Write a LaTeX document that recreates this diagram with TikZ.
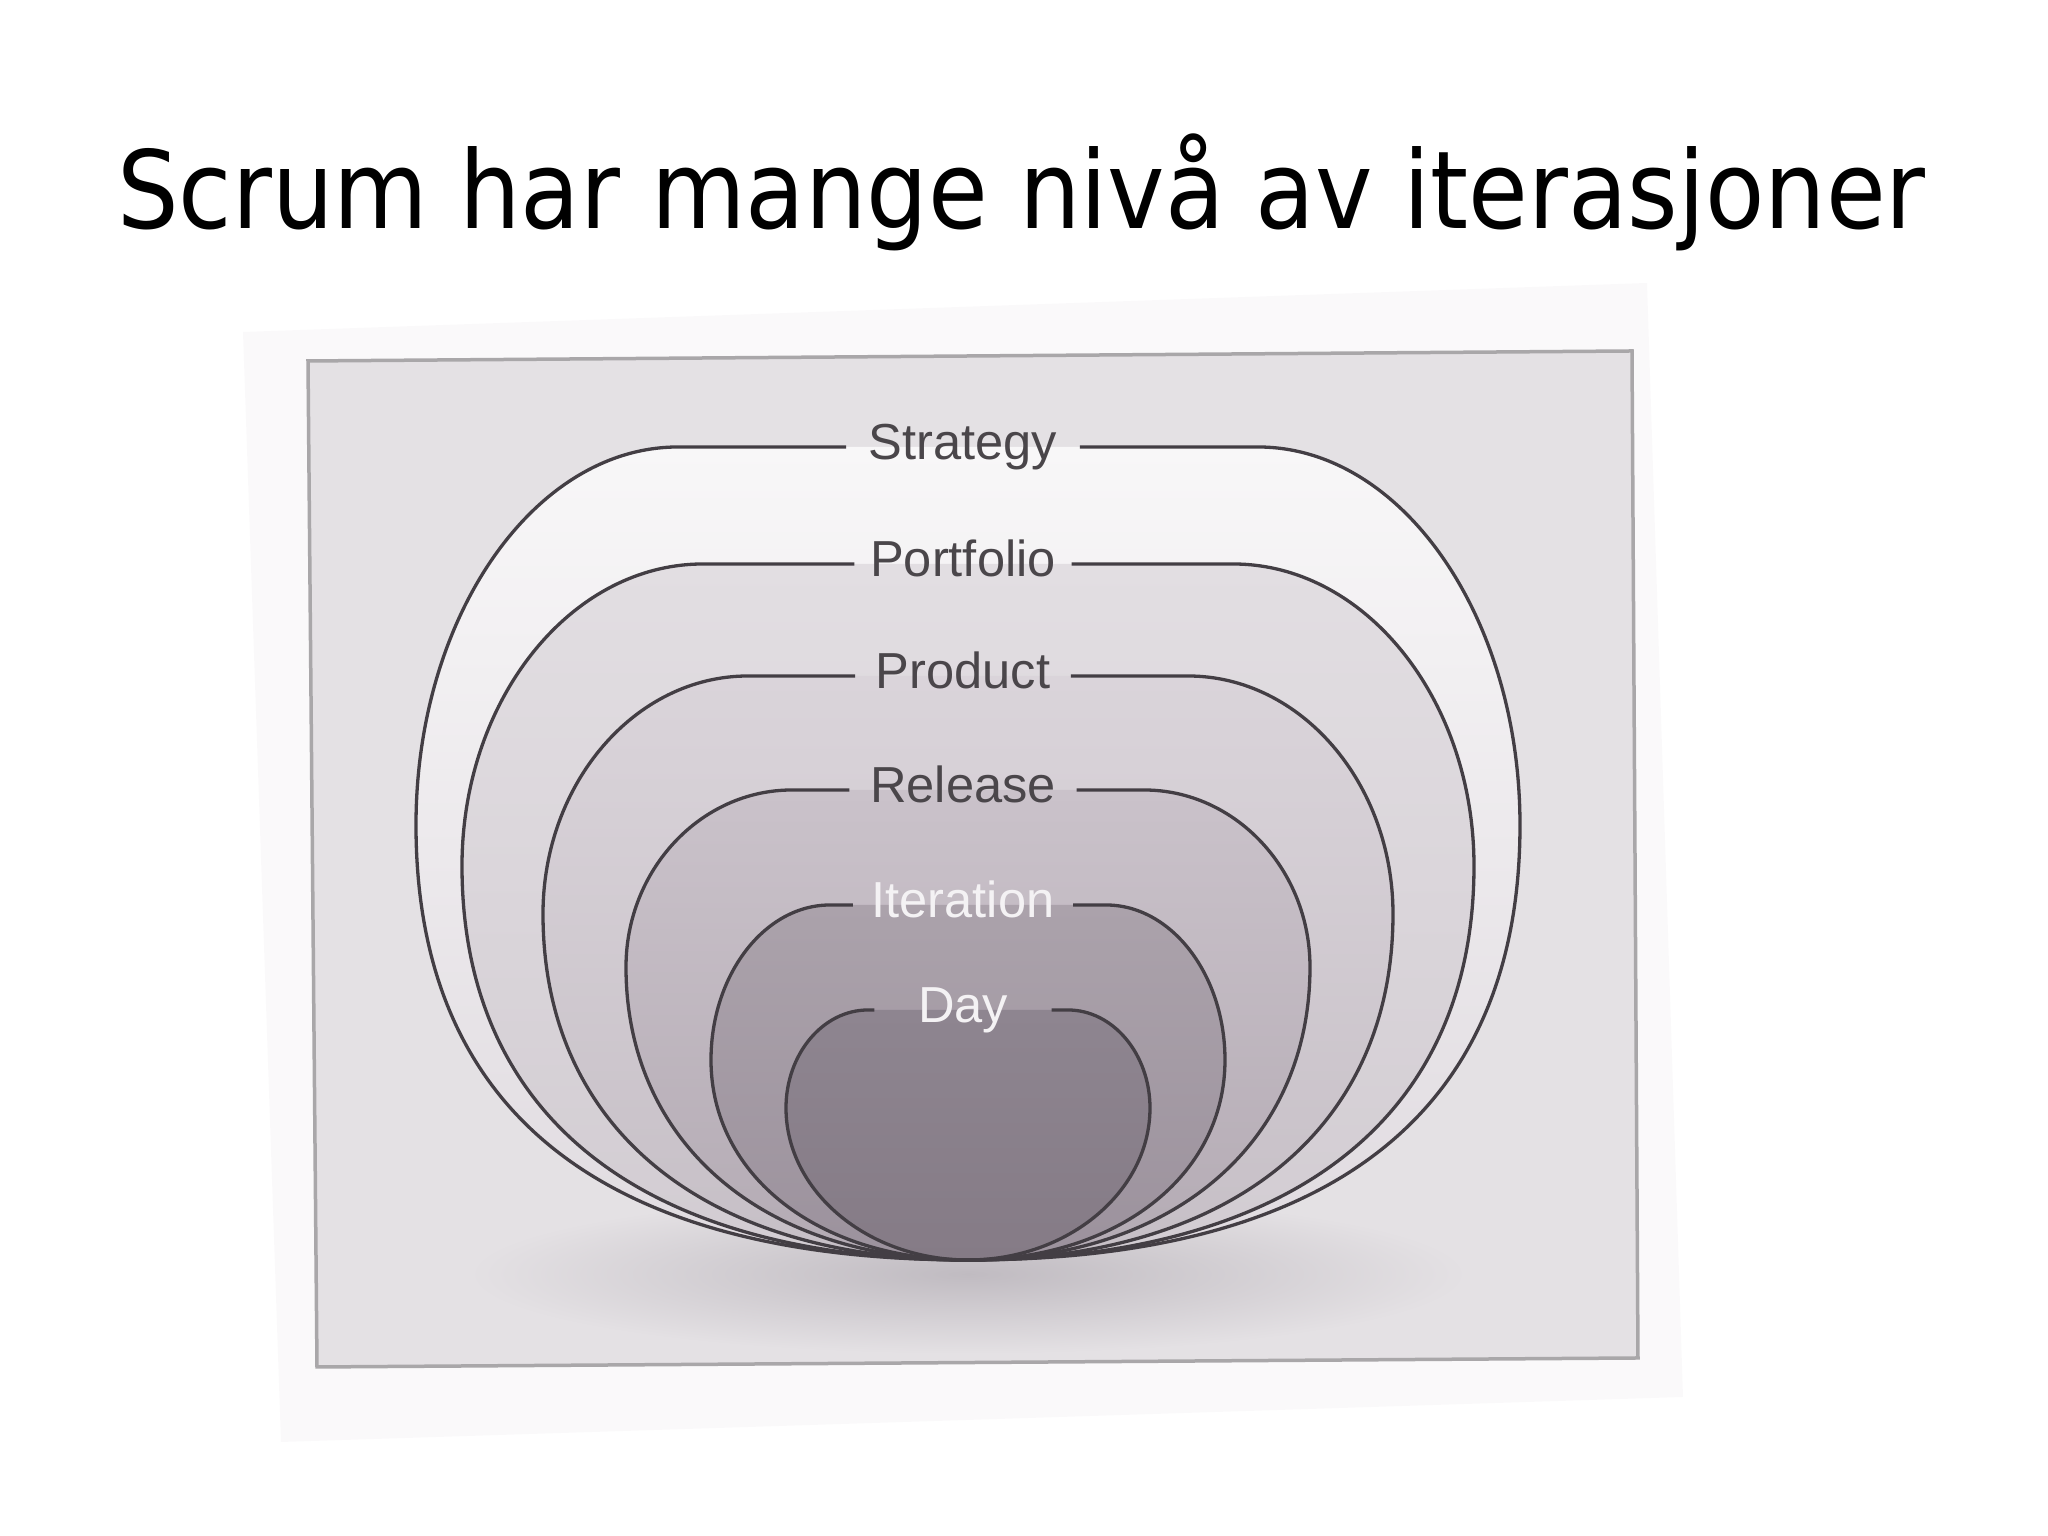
\documentclass[tikz,border=0pt]{standalone}
\usepackage{fontspec}
\setmainfont{Liberation Sans}
\newfontfamily\titlefont[FakeStretch=0.9]{DejaVu Sans}

\definecolor{paper}{HTML}{FAF9FA}
\definecolor{framegray}{HTML}{E4E1E4}
\definecolor{frameline}{HTML}{A9A7A9}
\definecolor{shadow}{HTML}{C0BBC1}
\definecolor{curveline}{HTML}{433E44}
\definecolor{labeldark}{HTML}{4A464A}
\definecolor{labellight}{HTML}{F4F2F4}
\definecolor{strategytop}{HTML}{F8F7F8}
\definecolor{strategybot}{HTML}{E0DBE0}
\definecolor{portfoliotop}{HTML}{E2DEE2}
\definecolor{portfoliobot}{HTML}{D2CCD2}
\definecolor{producttop}{HTML}{DAD4DA}
\definecolor{productbot}{HTML}{C6BFC6}
\definecolor{releasetop}{HTML}{CAC2CA}
\definecolor{releasebot}{HTML}{B4ABB4}
\definecolor{iterationtop}{HTML}{ABA2AB}
\definecolor{iterationbot}{HTML}{9C929D}
\definecolor{daytop}{HTML}{8E8590}
\definecolor{daybot}{HTML}{857B86}

\def\cx{9.68}
\def\yb{2.76}

% one bowl: #1 options, #2 start, #3 end, #4 top y, #5 straight half, #6 half width, #7 y at widest, #8 roundness below
\newcommand{\bowl}[8]{
	\path[#1] #2 -- ({\cx-#5},#4)
		.. controls ({\cx-#5-0.55*(#6-#5)},#4) and ({\cx-#6},{#7+0.55*(#4-#7)}) .. ({\cx-#6},#7)
		.. controls ({\cx-#6},{#7-#8*(#7-\yb)}) and ({\cx-#8*#6},\yb) .. (\cx,\yb)
		.. controls ({\cx+#8*#6},\yb) and ({\cx+#6},{#7-#8*(#7-\yb)}) .. ({\cx+#6},#7)
		.. controls ({\cx+#6},{#7+0.55*(#4-#7)}) and ({\cx+#5+0.55*(#6-#5)},#4) .. ({\cx+#5},#4)
		-- #3;
}

\begin{document}
\begin{tikzpicture}[
	curve/.style={draw=curveline, line width=0.033cm},
	lvl/.style={font=\fontsize{14.4}{17}\selectfont, text height=0.72em, text depth=0pt, inner ysep=0pt}
	]

	\useasboundingbox (0,0) rectangle (20.48,15.36);

	\node[anchor=base, font=\titlefont\fontsize{30.7}{36}\selectfont] (title) at (10.215,13.07) {Scrum har mange nivå av iterasjoner};

	% scanned page and its frame
	\fill[paper] (2.43,12.04) -- (16.47,12.53) -- (16.83,1.39) -- (2.81,0.94) -- cycle;
	\filldraw[fill=framegray, draw=frameline, line width=0.035cm] (3.08,11.75) -- (16.32,11.85) -- (16.38,1.78) -- (3.17,1.69) -- cycle;
	\shade[inner color=shadow, outer color=framegray] (\cx,2.62) ellipse (5.0 and 0.8);

	\foreach \name/\yt/\sx/\hw/\ym/\rd in {
		strategy/10.89/2.90/5.52/7.11/0.66,
		portfolio/9.72/2.65/5.06/6.70/0.64,
		product/8.60/2.20/4.25/6.22/0.62,
		release/7.46/1.76/3.42/5.69/0.60,
		iteration/6.31/1.38/2.57/4.76/0.58,
		day/5.26/1.00/1.82/4.28/0.55}
		\bowl{top color=\name top, bottom color=\name bot}{(\cx,\yt)}{cycle}{\yt}{\sx}{\hw}{\ym}{\rd}
		; %end for fills

	\foreach \name/\txt/\yt/\sx/\hw/\ym/\rd/\tc/\gap in {
		strategy/Strategy/10.89/2.90/5.52/7.11/0.66/labeldark/0.22,
		portfolio/Portfolio/9.72/2.65/5.06/6.70/0.64/labeldark/0.15,
		product/Product/8.60/2.20/4.25/6.22/0.62/labeldark/0.20,
		release/Release/7.46/1.76/3.42/5.69/0.60/labeldark/0.20,
		iteration/Iteration/6.31/1.38/2.57/4.76/0.58/labellight/0.18,
		day/Day/5.26/1.00/1.82/4.28/0.55/labellight/0.43}
	{
		\node[lvl, text=\tc, inner xsep=\gap cm] (\name) at (9.63,\yt) {\txt};
		\bowl{curve}{(\name.west)}{(\name.east)}{\yt}{\sx}{\hw}{\ym}{\rd}
	} %end for curves

\end{tikzpicture}
\end{document}
